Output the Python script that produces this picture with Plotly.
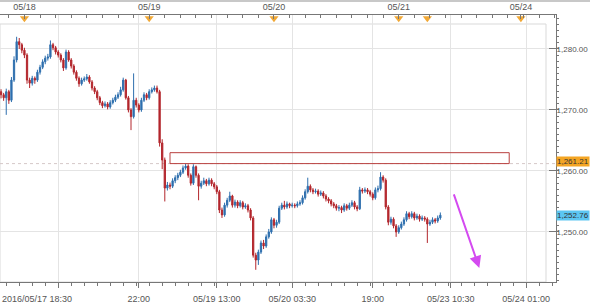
import plotly.graph_objects as go
from datetime import datetime

# ---------------- data (30-minute candles, XAU/USD style) ----------------
FIRST_OPEN = 1273.0
closes = [
    1272.5, 1272.0, 1273.0, 1271.6, 1274.9, 1278.2, 1281.2, 1280.7, 1279.8, 1279.0,
    1274.9, 1274.4, 1275.2, 1274.9, 1276.2, 1277.0, 1277.9, 1278.5, 1278.7, 1280.7,
    1280.2, 1279.5, 1279.0, 1278.2, 1276.9, 1279.5, 1278.2, 1277.2, 1276.2, 1275.2,
    1274.3, 1274.9, 1275.1, 1275.4, 1274.6, 1273.6, 1273.0, 1272.0, 1271.2, 1270.7,
    1271.0, 1270.5, 1271.2, 1271.6, 1272.1, 1272.5, 1273.3, 1274.9, 1272.0, 1270.0,
    1268.9, 1271.6, 1270.8, 1270.0, 1271.6, 1272.5, 1272.0, 1273.0, 1273.3, 1273.6,
    1273.0, 1264.6, 1261.8, 1257.2, 1257.7, 1257.5, 1258.4, 1258.9, 1259.3, 1259.8,
    1260.5, 1260.8, 1259.3, 1258.0, 1260.7, 1259.3, 1257.5, 1258.0, 1258.4, 1257.9,
    1258.5, 1257.9, 1257.4, 1256.6, 1253.6, 1252.8, 1254.4, 1255.2, 1255.9, 1254.4,
    1254.9, 1254.3, 1254.8, 1254.1, 1254.3, 1253.6, 1252.3, 1246.2, 1245.4, 1246.7,
    1248.2, 1247.7, 1249.2, 1250.0, 1252.0, 1251.1, 1251.6, 1253.9, 1254.4, 1254.1,
    1254.6, 1254.3, 1254.4, 1254.3, 1254.6, 1254.8, 1255.6, 1256.6, 1257.5, 1256.9,
    1256.6, 1256.7, 1256.2, 1256.4, 1255.9, 1255.4, 1255.1, 1254.6, 1254.3, 1253.9,
    1254.0, 1253.6, 1254.3, 1253.9, 1254.4, 1254.8, 1254.1, 1253.8, 1256.9, 1256.7,
    1256.9, 1256.6, 1256.2, 1255.6, 1256.9, 1257.1, 1259.0, 1258.5, 1254.1, 1251.6,
    1252.1, 1251.0, 1250.0, 1250.7, 1251.3, 1252.0, 1253.0, 1252.5, 1253.0, 1252.3,
    1252.6, 1252.1, 1252.3, 1252.1, 1251.3, 1251.6, 1252.0, 1251.8, 1252.3, 1252.76,
]
highs = [
    1273.4, 1272.8, 1273.5, 1273.3, 1275.4, 1278.8, 1282.0, 1281.8, 1281.0, 1280.2,
    1279.3, 1275.3, 1275.6, 1275.5, 1276.6, 1277.4, 1278.3, 1278.9, 1279.2, 1281.4,
    1281.0, 1280.5, 1279.8, 1279.3, 1278.5, 1279.9, 1279.8, 1278.5, 1277.5, 1276.5,
    1275.5, 1275.3, 1275.5, 1275.9, 1275.7, 1274.9, 1273.9, 1273.3, 1272.3, 1271.5,
    1271.4, 1271.3, 1271.6, 1272.0, 1272.5, 1272.9, 1273.8, 1275.3, 1275.1, 1272.3,
    1270.3, 1276.0, 1272.0, 1271.1, 1272.0, 1272.9, 1272.8, 1273.4, 1273.7, 1274.0,
    1274.0, 1273.3, 1265.2, 1262.2, 1258.2, 1258.1, 1258.8, 1259.3, 1259.7, 1260.2,
    1260.9, 1261.2, 1261.1, 1259.6, 1261.1, 1260.9, 1259.6, 1258.4, 1258.9, 1258.7,
    1258.9, 1258.8, 1258.2, 1257.7, 1256.9, 1254.0, 1254.8, 1255.6, 1256.6, 1256.1,
    1255.3, 1255.2, 1255.2, 1255.1, 1254.7, 1254.6, 1253.9, 1252.6, 1246.6, 1247.1,
    1248.6, 1248.7, 1249.6, 1250.5, 1252.4, 1252.3, 1252.0, 1254.3, 1254.8, 1255.1,
    1255.0, 1254.8, 1254.8, 1254.7, 1255.0, 1255.2, 1256.0, 1257.0, 1258.9, 1257.8,
    1257.2, 1257.1, 1257.0, 1256.8, 1256.7, 1256.2, 1255.7, 1255.4, 1254.9, 1254.6,
    1254.4, 1254.3, 1254.7, 1254.6, 1254.8, 1255.2, 1255.1, 1254.4, 1257.4, 1257.2,
    1257.3, 1257.2, 1256.9, 1256.5, 1257.3, 1257.6, 1259.8, 1259.3, 1258.8, 1254.4,
    1252.5, 1252.4, 1251.3, 1251.1, 1251.7, 1252.4, 1253.4, 1253.3, 1253.4, 1253.3,
    1253.0, 1252.9, 1252.7, 1252.6, 1252.4, 1252.0, 1252.4, 1252.3, 1252.7, 1253.2,
]
lows = [
    1271.9, 1271.5, 1269.2, 1271.0, 1271.3, 1274.6, 1277.8, 1280.0, 1279.3, 1278.5,
    1274.3, 1273.6, 1274.0, 1274.3, 1274.6, 1275.8, 1276.7, 1277.5, 1278.1, 1278.4,
    1279.8, 1279.1, 1278.6, 1277.8, 1276.4, 1276.6, 1277.9, 1276.8, 1275.8, 1274.8,
    1273.8, 1274.0, 1274.6, 1274.8, 1274.3, 1273.2, 1272.6, 1271.6, 1270.8, 1270.3,
    1270.4, 1270.1, 1270.2, 1270.9, 1271.3, 1271.8, 1272.2, 1273.0, 1271.7, 1269.6,
    1266.7, 1268.6, 1270.4, 1269.6, 1269.7, 1271.3, 1271.6, 1271.7, 1272.7, 1273.0,
    1272.7, 1264.0, 1260.3, 1255.0, 1256.8, 1257.0, 1257.2, 1258.0, 1258.5, 1259.0,
    1259.5, 1260.2, 1258.9, 1257.6, 1257.7, 1258.9, 1255.2, 1257.1, 1257.7, 1257.5,
    1257.6, 1257.5, 1257.0, 1256.2, 1253.1, 1252.3, 1252.5, 1254.0, 1254.9, 1254.0,
    1254.0, 1253.9, 1254.0, 1253.7, 1253.8, 1253.2, 1251.9, 1245.8, 1243.8, 1244.6,
    1246.4, 1247.2, 1247.4, 1248.9, 1249.7, 1250.6, 1250.7, 1251.3, 1253.6, 1253.7,
    1253.8, 1253.9, 1254.0, 1253.9, 1254.0, 1254.3, 1254.5, 1255.3, 1256.3, 1256.5,
    1256.2, 1256.3, 1255.8, 1255.9, 1255.5, 1255.0, 1254.7, 1254.2, 1253.9, 1253.5,
    1253.4, 1253.1, 1253.3, 1253.5, 1253.6, 1254.1, 1253.7, 1253.4, 1253.6, 1256.3,
    1256.4, 1256.2, 1255.8, 1255.2, 1255.3, 1256.5, 1256.8, 1258.1, 1253.7, 1251.1,
    1251.2, 1250.6, 1249.2, 1249.7, 1250.4, 1251.0, 1251.7, 1252.1, 1252.2, 1251.9,
    1252.0, 1251.7, 1251.8, 1251.7, 1248.2, 1251.0, 1251.3, 1251.4, 1251.5, 1252.0,
]
opens = [FIRST_OPEN] + closes[:-1]

# sessions: (session start time, candle index of that start)
SESSIONS = [(datetime(2016, 5, 17, 19, 30), 0), (datetime(2016, 5, 23, 6, 0), 164)]
CANDLE_MIN = 30

def to_idx(dt):
    start, base = [s for s in SESSIONS if s[0] <= dt][-1]
    return base + (dt - start).total_seconds() / 60 / CANDLE_MIN

bottom_tick_times = [datetime(2016, 5, 18, 6, 30), datetime(2016, 5, 18, 22, 0),
                     datetime(2016, 5, 19, 13, 0), datetime(2016, 5, 20, 3, 30),
                     datetime(2016, 5, 20, 19, 0), datetime(2016, 5, 23, 10, 30),
                     datetime(2016, 5, 24, 1, 0)]
bottom_tick_text = ["", "22:00", "05/19 13:00", "05/20 03:30", "19:00",
                    "05/23 10:30", "05/24 01:00"]
first_label = "2016/05/17 18:30"

top_tick_times = [datetime(2016, 5, 18), datetime(2016, 5, 19), datetime(2016, 5, 20),
                  datetime(2016, 5, 21), datetime(2016, 5, 24)]
top_tick_text = ["05/18", "05/19", "05/20", "05/21", "05/24"]
marker_times = top_tick_times[:4] + [datetime(2016, 5, 23, 6, 0), datetime(2016, 5, 24)]

RESIST_LOW, RESIST_HIGH = 1261.21, 1263.0
RESIST_START, RESIST_END = datetime(2016, 5, 19, 4, 0), datetime(2016, 5, 23, 21, 45)
LAST_PRICE = closes[-1]
ARROW_FROM = (datetime(2016, 5, 23, 11, 0), 1256.4)
ARROW_TO = (datetime(2016, 5, 23, 16, 0), 1244.1)

Y_MIN, Y_MAX = 1241.8, 1285.57
X_MIN, X_MAX = -0.4, 213.5

# ---------------- figure ----------------
xs = list(range(len(closes)))
fig = go.Figure()
fig.add_trace(go.Candlestick(
    x=xs, open=opens, high=highs, low=lows, close=closes,
    increasing=dict(line=dict(color="#2e6fae", width=1), fillcolor="#2e6fae"),
    decreasing=dict(line=dict(color="#b3262c", width=1), fillcolor="#b3262c"),
    whiskerwidth=0, hoverinfo="skip", showlegend=False,
))
fig.add_trace(go.Scatter(
    x=[to_idx(t) for t in marker_times], y=[Y_MAX - 0.55] * len(marker_times),
    xaxis="x2", mode="markers", cliponaxis=False, showlegend=False, hoverinfo="skip",
    marker=dict(symbol="triangle-down", size=8, color="#f1a836"),
))

axis_font = dict(family="Liberation Sans, Arial", size=9, color="#555")
y_font = dict(family="Liberation Sans, Arial", size=8, color="#555")
fig.update_layout(
    width=590, height=307, margin=dict(l=0, r=34, t=15, b=25, autoexpand=False),
    paper_bgcolor="white", plot_bgcolor="white", showlegend=False,
    font=axis_font,
    xaxis=dict(
        range=[X_MIN, X_MAX], rangeslider=dict(visible=False), automargin=False,
        tickvals=[to_idx(t) for t in bottom_tick_times], ticktext=bottom_tick_text,
        showgrid=True, gridcolor="#e4e4e4", gridwidth=1, zeroline=False,
        showline=True, linecolor="#777", ticks="outside", ticklen=5, tickcolor="#777",
        minor=dict(tick0=to_idx(bottom_tick_times[0]), dtick=5, ticks="outside",
                   ticklen=3, tickcolor="#777", showgrid=False),
        tickfont=axis_font, ticklabelstandoff=3, fixedrange=True,
    ),
    xaxis2=dict(
        overlaying="x", side="top", anchor="y", range=[X_MIN, X_MAX], automargin=False,
        tickvals=[to_idx(t) for t in top_tick_times], ticktext=top_tick_text,
        showgrid=False, zeroline=False, showline=True, linecolor="#777",
        ticks="inside", ticklen=4, tickcolor="#777",
        minor=dict(tick0=to_idx(top_tick_times[0]), dtick=6, ticks="inside",
                   ticklen=3, tickcolor="#777"),
        tickfont=axis_font, fixedrange=True,
    ),
    yaxis=dict(
        side="right", range=[Y_MIN, Y_MAX], tick0=1250, dtick=10, tickformat=",.2f",
        automargin=False,
        showgrid=True, gridcolor="#e4e4e4", zeroline=False,
        showline=True, linecolor="#777", ticks="inside", ticklen=7, tickcolor="#777",
        minor=dict(dtick=1, ticks="outside", ticklen=2, tickcolor="#777", showgrid=False),
        tickfont=y_font, ticklabelstandoff=-2, fixedrange=True,
    ),
)

# inner light frame and top bar
fig.add_shape(type="rect", xref="paper", yref="paper", x0=0, x1=546 / 556, y0=0,
              y1=1 - 9 / 267, line=dict(color="#d9d9d9", width=1), layer="below")
fig.add_shape(type="line", xref="paper", yref="paper", x0=0, x1=1.07, y0=1.052, y1=1.052,
              line=dict(color="#c8c8c8", width=2))
# dotted level line at resistance low
fig.add_shape(type="line", xref="paper", yref="y", x0=0, x1=1, y0=RESIST_LOW, y1=RESIST_LOW,
              line=dict(color="#d6c8c8", width=1, dash="dot"), layer="below")
# resistance box
fig.add_shape(type="rect", xref="x", yref="y", x0=to_idx(RESIST_START), x1=to_idx(RESIST_END),
              y0=RESIST_LOW, y1=RESIST_HIGH, line=dict(color="#b9413f", width=1))

# arrow
fig.add_annotation(x=to_idx(ARROW_TO[0]), y=ARROW_TO[1], ax=to_idx(ARROW_FROM[0]), ay=ARROW_FROM[1],
                   xref="x", yref="y", axref="x", ayref="y", text="", showarrow=True,
                   arrowhead=2, arrowsize=1.2, arrowwidth=2, arrowcolor="#d44af0")

# price labels on right axis
for price, bg, shift in [(RESIST_LOW, "#f4a524", 2), (LAST_PRICE, "#5cc6f2", 0)]:
    fig.add_annotation(x=1, y=price, xref="paper", yref="y", xanchor="left", yanchor="middle",
                       xshift=0, yshift=shift, text=f"{price:,.2f}", showarrow=False, bgcolor=bg,
                       borderpad=0, font=dict(family="Liberation Sans, Arial", size=8, color="#333"))

# first bottom label at the left edge
fig.add_annotation(x=0, y=0, xref="paper", yref="paper", xanchor="left", yanchor="top",
                   yshift=-10, text=first_label, showarrow=False, font=axis_font)

fig.write_html("out.html")
